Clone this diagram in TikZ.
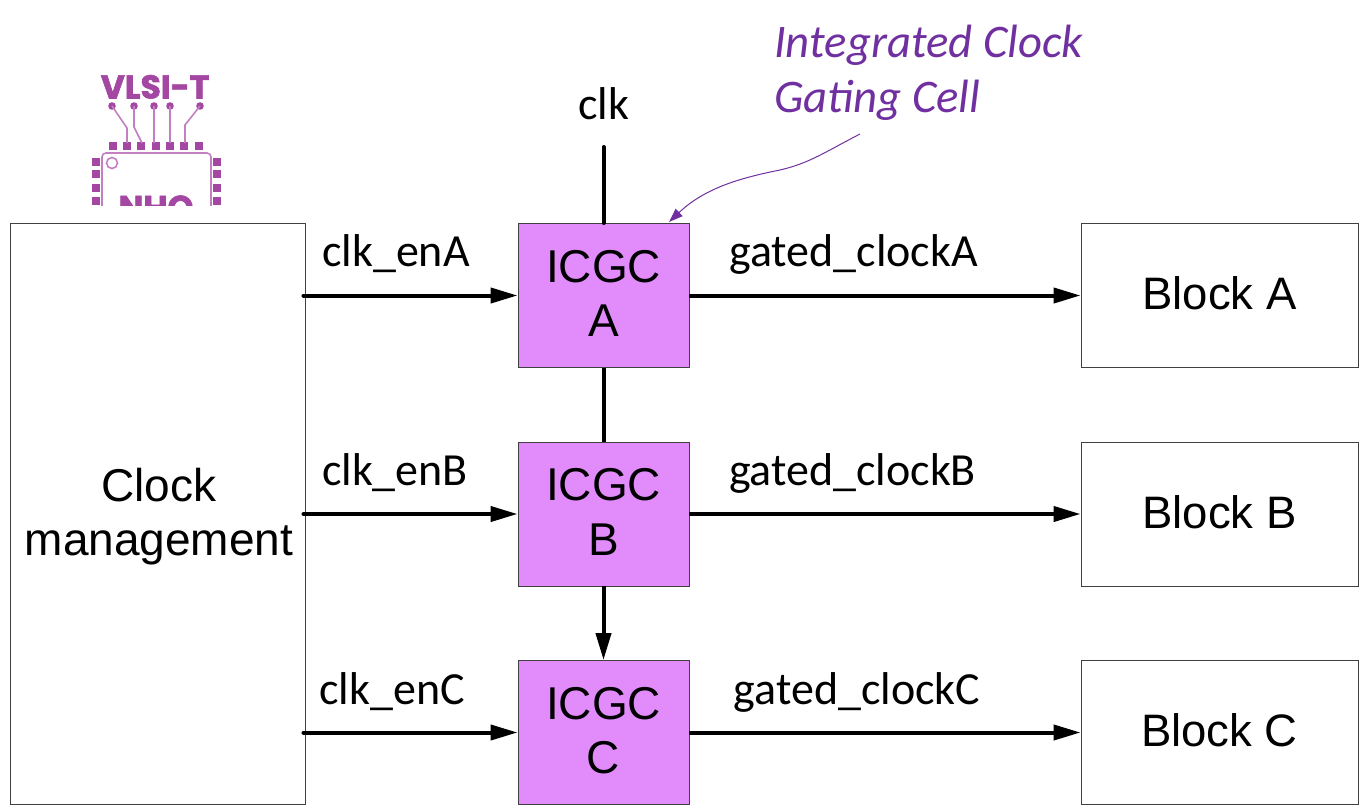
\documentclass[tikz,border=0pt]{standalone}
\usepackage{fontspec}
\setmainfont{Liberation Sans}
\newfontfamily\car{Carlito}
\newfontfamily\pop{Poppins}[BoldFeatures={FakeBold=2}]
\usetikzlibrary{arrows.meta}
\definecolor{cellfill}{HTML}{E28CFC}
\definecolor{note}{HTML}{7030A0}
\definecolor{logo}{HTML}{A347A3}
\definecolor{logol}{HTML}{C27FC2}
\definecolor{edge}{HTML}{404040}
\newcommand{\lowered}[1]{\hspace*{3pt}\raisebox{-2.5pt}[\height][\depth]{#1}}
\newcommand{\raised}[1]{\raisebox{2pt}[\height][\depth]{#1}}
\tikzset{
  x=1pt,y=-1pt,
  box/.style={draw=edge,line width=0.9pt,fill=white,inner sep=0pt,align=center,font=\fontsize{46}{54.5}\selectfont},
  icgc/.style={box,fill=cellfill,minimum width=171pt,minimum height=144pt},
  block/.style={box,font=\fontsize{45.5}{54}\selectfont,minimum width=277pt,minimum height=144pt},
  wire/.style={line width=4pt,black},
  arrow/.style={wire,-{Triangle[length=27pt,width=15pt]}},
  lab/.style={font=\car\fontsize{46}{46}\selectfont,anchor=base,inner sep=0pt},
  noted/.style={font=\car\itshape\fontsize{46.7}{46.7}\selectfont,text=note,anchor=base west,inner sep=0pt},
  logotext/.style={font=\pop\bfseries\fontsize{33}{33}\selectfont,text=logo,anchor=base,inner sep=0pt},
}
\begin{document}
\begin{tikzpicture}
\useasboundingbox (0,0) rectangle (1360,807);
% logo
\begin{scope}
\clip (80,70) rectangle (230,205.5);
\node[logotext] (logotop) at (155,98.5) {VLSI-T};
\foreach \x in {113,127,141,156,170,184,199}{\fill[logo] (\x-3.7,142.3) rectangle (\x+3.7,149.7);}
\foreach \y in {162,174,188,201}{
 \fill[logo] (92.3,\y-3.7) rectangle (99.7,\y+3.7);
 \fill[logo] (213.3,\y-3.7) rectangle (220.7,\y+3.7);}
\draw[logol,line width=1.6pt,rounded corners=4pt] (102,210) -- (102,153) -- (211,153) -- (211,210);
\draw[logol,line width=1.6pt] (112,163) circle (5.5);
\foreach \x in {112,134,154,170,200}{\fill[logo] (\x,106) circle (3.8);}
\draw[logol,line width=1.6pt] (112,106) -- (127,128) -- (127,143);
\draw[logol,line width=1.6pt] (134,106) -- (134,127) -- (142,143);
\draw[logol,line width=1.6pt] (154,106) -- (154,143);
\draw[logol,line width=1.6pt] (170,106) -- (170,143);
\draw[logol,line width=1.6pt] (200,106) -- (185,125) -- (185,143);
\node[logotext] (logobot) at (156,219) {NHO};
\end{scope}
% boxes
\node[box,minimum width=295pt,minimum height=581pt] (cm) at (157.5,514) {\lowered{Clock}\\\lowered{management}};
\node[icgc] (a) at (603.5,295.5) {\raised{ICGC}\\\raised{A}};
\node[icgc] (b) at (603.5,514) {\raised{ICGC}\\\raised{B}};
\node[icgc] (c) at (603.5,732.5) {\raised{ICGC}\\\raised{C}};
\node[block] (ba) at (1219.5,295.5) {\raised{Block A}};
\node[block] (bb) at (1219.5,514) {\raised{Block B}};
\node[block] (bc) at (1219.5,732.5) {\raised{Block C}};
% connectors
\coordinate (clkin) at (603.5,147);
\draw[wire,line cap=round] (clkin) -- (a.north);
\draw[wire] (a.south) -- (b.north);
\draw[arrow] (b.south) -- (c.north);
\foreach \n/\m in {a/ba,b/bb,c/bc}{
  \draw[arrow,line cap=round] ([xshift=-2pt]\n.west -| cm.east) -- (\n.west);
  \draw[arrow] (\n.east) -- (\m.west);
}
% labels
\node[lab] (lclk) at (603.5,119) {clk};
\node[lab] (l1) at (396,266) {clk\_enA};
\node[lab] (l2) at (395,485) {clk\_enB};
\node[lab] (l3) at (392,704) {clk\_enC};
\node[lab] (g1) at (853.5,266) {gated\_clockA};
\node[lab] (g2) at (852.5,485) {gated\_clockB};
\node[lab] (g3) at (857,704) {gated\_clockC};
\node[noted] (n1) at (774,57) {Integrated Clock};
\node[noted] (n2) at (774,112) {Gating Cell};
\coordinate (nstart) at (860,134);
\draw[note,line width=1pt,-{Triangle[length=14pt,width=10pt]}] (nstart) .. controls (825,152) and (810,163) .. (780,170) .. controls (740,178) and (705,188) .. (669,222);
\end{tikzpicture}
\end{document}
